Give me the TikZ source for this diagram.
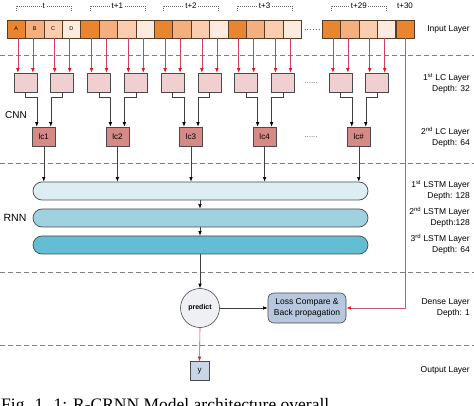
\documentclass[tikz,border=0pt]{standalone}
\usepackage{fontspec}
\setmainfont{Liberation Sans}
\newfontfamily\capfont{Liberation Serif}
\usetikzlibrary{arrows.meta}
\definecolor{cA}{HTML}{E9852F}
\definecolor{cB}{HTML}{F4AF80}
\definecolor{cC}{HTML}{F9CDAE}
\definecolor{cD}{HTML}{FDEBDD}
\definecolor{sqborder}{HTML}{5A3A22}
\definecolor{lcone}{HTML}{EFCFCF}
\definecolor{lctwo}{HTML}{D68A86}
\definecolor{redline}{HTML}{D2405C}
\definecolor{redtip}{HTML}{E8141B}
\definecolor{vline}{HTML}{C45A72}
\definecolor{lsA}{HTML}{DCEEF3}
\definecolor{lsB}{HTML}{9FD1E0}
\definecolor{lsC}{HTML}{63BDD3}
\definecolor{predfill}{HTML}{EEF0F4}
\definecolor{lossfill}{HTML}{B7C7DD}
\definecolor{yfill}{HTML}{C9D6E8}
\definecolor{sepgray}{HTML}{7F7F7F}
\definecolor{boxborder}{HTML}{4A4A4A}
\begin{document}
\begin{tikzpicture}[x=1pt,y=-1pt,
  sq/.style={draw=sqborder,line width=0.5pt,minimum width=18.4pt,minimum height=18pt,inner sep=0pt,font=\fontsize{5.5}{6}\selectfont},
  lcbox/.style={draw=boxborder,line width=0.6pt,fill=lcone,minimum width=23pt,minimum height=19pt,inner sep=0pt},
  lctbox/.style={draw=boxborder,line width=0.6pt,fill=lctwo,minimum width=23pt,minimum height=19pt,inner sep=0pt,font=\fontsize{8}{9}\selectfont},
  lstm/.style={draw=boxborder,line width=0.7pt,minimum width=335pt,minimum height=18pt,rounded corners=9pt,inner sep=0pt},
  redarr/.style={draw=redline,line width=0.6pt,-{Latex[length=4.5pt,width=3.5pt,color=redtip]}},
  blkarr/.style={draw=black!75,line width=0.6pt,-{Latex[length=4.5pt,width=3.5pt,color=black]}},
  sepline/.style={draw=sepgray,line width=0.8pt,dash pattern=on 5pt off 3pt},
  bracket/.style={draw=black!60,line width=0.4pt,dash pattern=on 1pt off 1pt},
  tlabel/.style={fill=white,inner sep=1pt,font=\fontsize{8}{9}\selectfont},
  rlabel/.style={anchor=east,align=right,inner sep=0pt,font=\fontsize{8.5}{11}\selectfont},
  dotlab/.style={text=black!60,inner sep=0pt,font=\fontsize{8}{9}\selectfont}]
\useasboundingbox (0,0) rectangle (474,406);
\clip (0,0) rectangle (474,406);

% separators
\foreach \yy in {55,163,272,345} \draw[sepline] (0,\yy) -- (474,\yy);

% input squares
\node[sq,fill=cA] (s0-1) at ({7+0.5*18.4},29) {A};
\node[sq,fill=cB] (s0-2) at ({7+1.5*18.4},29) {B};
\node[sq,fill=cC] (s0-3) at ({7+2.5*18.4},29) {C};
\node[sq,fill=cD] (s0-4) at ({7+3.5*18.4},29) {D};
\foreach \g/\x in {1/80.6,2/154.2,3/227.8,4/322}{
  \foreach \k/\c in {1/cA,2/cB,3/cC,4/cD}{
    \node[sq,fill=\c] (s\g-\k) at ({\x+(\k-0.5)*18.4},29) {};
  }
}
\node[sq,fill=cA,minimum width=18pt] (s30) at (405,29) {};
\draw[line width=0.8pt,dotted,black!60] ([xshift=3pt]s3-4.east) -- ([xshift=-3pt]s4-1.west);

% brackets and time labels
\foreach \g/\x/\t in {0/7/t,1/80.6/t+1,2/154.2/t+2,3/227.8/t+3,4/322/t+29}{
  \draw[bracket] ([yshift=9pt]s\g-1.north) -- ++(0,-5) -| ([yshift=9pt]s\g-4.north);
  \node[tlabel] (lab\g) at ({\x+36.8},6) {\t};
}
\node[tlabel] (lab30) at (405,6) {t+30};

% first LC layer boxes and second LC layer
\foreach \g/\x/\n in {0/7/lc1,1/80.6/lc2,2/154.2/lc3,3/227.8/lc4,4/322/lc\#}{
  \node[lcbox] (b\g-1) at ({\x+36.8-18.4},82.5) {};
  \node[lcbox] (b\g-2) at ({\x+36.8+18.4},82.5) {};
  \node[lctbox] (lc\g) at ({\x+36.8},136.5) {\n};
  \draw[redarr] ([xshift=-7.5pt]b\g-1.north |- s\g-1.south) -- ([xshift=-7.5pt]b\g-1.north);
  \draw[redarr] ([xshift=7.5pt]b\g-1.north |- s\g-2.south) -- ([xshift=7.5pt]b\g-1.north);
  \draw[redarr] ([xshift=-7.5pt]b\g-2.north |- s\g-3.south) -- ([xshift=-7.5pt]b\g-2.north);
  \draw[redarr] ([xshift=7.5pt]b\g-2.north |- s\g-4.south) -- ([xshift=7.5pt]b\g-2.north);
  \draw[blkarr] (b\g-1.south) -- ++(0,5) -| ([xshift=-7pt]lc\g.north);
  \draw[blkarr] (b\g-2.south) -- ++(0,5) -| ([xshift=7pt]lc\g.north);
}
\node[dotlab] (dots1) at (311,83) {......};
\node[dotlab] (dots2) at (311,137) {......};

% LSTM layers
\node[lstm,fill=lsA] (L1) at (200.5,191) {};
\node[lstm,fill=lsB] (L2) at (200.5,218) {};
\node[lstm,fill=lsC] (L3) at (200.5,245) {};
\foreach \g in {0,...,4}{
  \draw[blkarr] (lc\g.south) -- (lc\g.south |- L1.north);
}

% dense / output
\node[circle,draw=boxborder,line width=0.6pt,fill=predfill,minimum size=39pt,inner sep=0pt,font=\bfseries\fontsize{7}{8}\selectfont] (pred) at (200,308) {predict};
\node[draw=boxborder,line width=0.6pt,fill=lossfill,rounded corners=6pt,minimum width=78pt,minimum height=30pt,inner sep=1pt,align=center,font=\fontsize{8.5}{10.5}\selectfont] (loss) at (307,308) {Loss Compare \&\\Back propagation};
\node[draw=boxborder,line width=0.6pt,fill=yfill,minimum size=19pt,inner sep=0pt,font=\fontsize{8}{9}\selectfont] (yout) at (199.5,371) {y};

\draw[blkarr] (L1.south -| pred.north) -- (L2.north -| pred.north);
\draw[blkarr] (L2.south -| pred.north) -- (L3.north -| pred.north);
\draw[blkarr] (L3.south -| pred.north) -- (pred.north);
\draw[blkarr] (pred.east) -- (loss.west);
\draw[redarr] (pred.south) -- (yout.north);
\draw[draw=vline,line width=0.7pt,-{Latex[length=4.5pt,width=3.5pt,color=redtip]}] (s30.south) |- (loss.east);

% left labels
\node[inner sep=0pt,font=\fontsize{10}{12}\selectfont] (cnn) at (16,115) {CNN};
\node[inner sep=0pt,font=\fontsize{10.5}{12}\selectfont] (rnn) at (15,218) {RNN};

% right labels
\node[rlabel] (rl1) at (470,29) {Input Layer};
\node[rlabel] (rl2) at (470,83.5) {1\textsuperscript{st} LC Layer\\Depth: 32};
\node[rlabel] (rl3) at (470,137.5) {2\textsuperscript{nd} LC Layer\\Depth: 64};
\node[rlabel] (rl4) at (470,190.5) {1\textsuperscript{st} LSTM Layer\\Depth: 128};
\node[rlabel] (rl5) at (470,217.5) {2\textsuperscript{nd} LSTM Layer\\Depth:128};
\node[rlabel] (rl6) at (470,244.5) {3\textsuperscript{rd} LSTM Layer\\Depth: 64};
\node[rlabel] (rl7) at (470,307.5) {Dense Layer\\Depth: 1};
\node[rlabel] (rl8) at (470,370) {Output Layer};

% caption (cut off at the bottom, as in the reference)
\node[anchor=north west,inner sep=0pt,font=\capfont\fontsize{17.5}{20}\selectfont] (cap) at (1,398.5) {Fig. 1. 1: R-CRNN Model architecture overall};
\end{tikzpicture}
\end{document}
